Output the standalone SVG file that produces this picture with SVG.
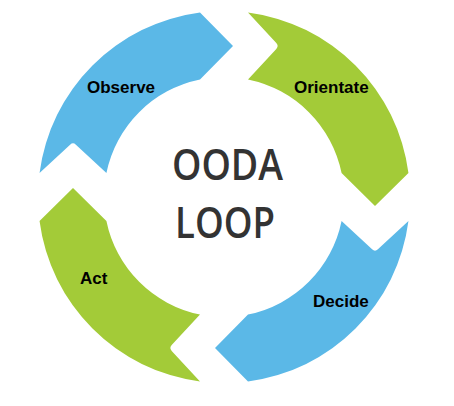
<svg xmlns="http://www.w3.org/2000/svg" width="454" height="406" viewBox="0 0 454 406">
  <defs>
    <path id="arrow" d="M -184.45,-24 A 186 186 0 0 1 -24,-184.45 L 9,-151 L -24,-117.58 A 120 120 0 0 0 -117.58,-24 L -148.1,-52.3 Q -151,-55 -153.9,-52.3 Z"/>
  </defs>
  <style>
    .blue { fill: #5BB8E7; }
    .green { fill: #A3CB38; }
    .lbl { font-family: "Liberation Sans", Arial, sans-serif; font-weight: bold; font-size: 17px; fill: #000; }
    .title { font-family: "Open Sans", "Liberation Sans", sans-serif; font-weight: 600; font-size: 43px; fill: #333333; }
  </style>
  <rect width="454" height="406" fill="#ffffff"/>
  <g id="connectors"/>
  <g id="observe">
    <use href="#arrow" class="blue" transform="translate(224,197)"/>
    <text class="lbl" x="87" y="93">Observe</text>
  </g>
  <g id="orientate">
    <use href="#arrow" class="green" transform="translate(224,197) rotate(90)"/>
    <text class="lbl" x="294" y="93">Orientate</text>
  </g>
  <g id="decide">
    <use href="#arrow" class="blue" transform="translate(224,197) rotate(180)"/>
    <text class="lbl" x="313" y="307">Decide</text>
  </g>
  <g id="act">
    <use href="#arrow" class="green" transform="translate(224,197) rotate(270)"/>
    <text class="lbl" x="80" y="284">Act</text>
  </g>
  <g id="center">
    <text class="title" x="227.5" y="180" text-anchor="middle" textLength="111" lengthAdjust="spacingAndGlyphs">OODA</text>
    <text class="title" x="225" y="238" text-anchor="middle" textLength="100" lengthAdjust="spacingAndGlyphs">LOOP</text>
  </g>
</svg>
